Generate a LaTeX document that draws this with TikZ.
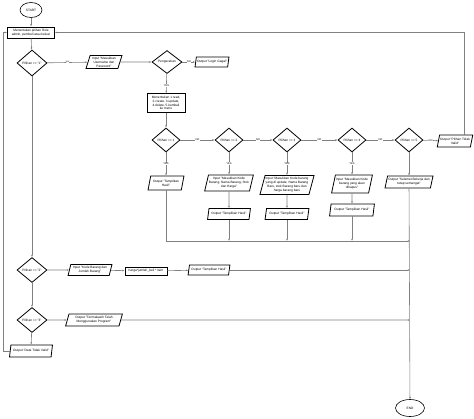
\documentclass[tikz,border=0pt]{standalone}
\usepackage{fontspec}
\setmainfont{Liberation Sans}
\usetikzlibrary{shapes.geometric,arrows.meta}
\definecolor{ln}{gray}{0.5}
\begin{document}
\begin{tikzpicture}[x=1pt,y=-1pt,
  every node/.style={font=\fontsize{3.2}{3.9}\selectfont, inner sep=0.5pt, align=center},
  term/.style={ellipse, draw=black, line width=0.6pt},
  proc/.style={rectangle, draw=black, line width=0.8pt},
  io/.style={trapezium, trapezium left angle=72, trapezium right angle=108, trapezium stretches=true, draw=black, line width=0.8pt},
  dec/.style={diamond, draw=black, line width=0.8pt},
  conn/.style={draw=ln, line width=0.6pt, -{Latex[length=2.2pt,width=1.8pt]}},
  lbl/.style={fill=white, font=\fontsize{2.6}{3}\selectfont, inner sep=0.3pt}
]
\useasboundingbox (0,0) rectangle (474,418);
% top section
\node[term, minimum width=22, minimum height=15] (start) at (31,10) {START};
\node[proc, minimum width=47, minimum height=11] (menu0) at (31,32.5) {Menentukan pilihan Role\\admin, pembeli atau keluar};
\node[dec, minimum width=30, minimum height=26] (d1) at (32,63) {Pilihan == "1"};
\node[io, minimum width=36, minimum height=13] (inlogin) at (104,62) {Input "Masukkan\\Username dan\\Password"};
\node[dec, minimum width=30, minimum height=23] (cek) at (167,62) {Pengecekan};
\node[io, minimum width=34, minimum height=10] (gagal) at (212,62) {Output "Login Gagal"};
\node[proc, minimum width=38, minimum height=19] (menu1) at (166,103) {Menentukan 1 read,\\2.create, 3.update,\\4.delete, 5.kembali\\ke menu};
% choice row
\node[dec, minimum width=28, minimum height=24] (p1) at (166,140) {Pilihan == 1};
\node[dec, minimum width=28, minimum height=24] (p2) at (229,140) {Pilihan == 2};
\node[dec, minimum width=28, minimum height=24] (p3) at (287,140) {Pilihan == 3};
\node[dec, minimum width=28, minimum height=24] (p4) at (352,140) {Pilihan == 4};
\node[dec, minimum width=28, minimum height=24] (p5) at (409,140) {Pilihan == 5};
\node[io, minimum width=34, minimum height=12] (tv) at (455,141) {Output "Pilihan Tidak\\Valid"};
% results
\node[io, minimum width=36, minimum height=14] (o1) at (166,183) {Output "Tampilkan\\Hasil"};
\node[io, minimum width=47, minimum height=16] (i2) at (229,183) {Input "Masukkan Kode\\Barang, Nama Barang, Stok\\dan Harga"};
\node[io, minimum width=43, minimum height=11] (o2) at (229,214) {Output "Tampilkan Hasil"};
\node[io, minimum width=51, minimum height=19] (i3) at (287,185) {Input "Masukkan Kode barang\\yang di update, Nama Barang\\Baru, stok Barang baru dan\\harga barang baru};
\node[io, minimum width=44, minimum height=11] (o3) at (287,214) {Output "Tampilkan Hasil"};
\node[io, minimum width=41, minimum height=18] (i4) at (352,184) {Input "Masukkan Kode\\barang yang akan\\dihapus"};
\node[io, minimum width=45, minimum height=12] (o4) at (352,210) {Output "Tampilkan Hasil"};
\node[io, minimum width=48, minimum height=12] (o5) at (409,182) {Output "Selamat Bekerja dan\\tetap semangat"};
\node[term, minimum width=29, minimum height=17] (end) at (410,408) {END};
% lower section
\node[dec, minimum width=30, minimum height=25] (d2) at (32,270) {Pilihan == "2"};
\node[io, minimum width=44, minimum height=11] (ik) at (90,270) {Input "Kode Barang dan\\Jumlah Barang"};
\node[proc, minimum width=42, minimum height=8] (calc) at (146,271) {harga*jumlah\_beli * item};
\node[io, minimum width=42, minimum height=10] (ok) at (209,270) {Output "Tampilkan Hasil"};
\node[dec, minimum width=30, minimum height=25] (d3) at (32,320) {Pilihan == "3"};
\node[io, minimum width=57, minimum height=12] (oter) at (94,320) {Output "Terimakasih Telah\\Menggunakan Program"};
\node[io, minimum width=43, minimum height=12] (odv) at (31,351) {Output "Data Tidak Valid"};
% helper coordinates
\coordinate (m) at (410,241);
\coordinate (tvup) at (464,32.5);
\coordinate (lx) at (3,351);
% connectors
\draw[conn] (start) -- (menu0);
\draw[conn] (menu0) -- (d1);
\draw[conn] (d1) -- node[lbl]{ya} (inlogin);
\draw[conn] (inlogin) -- (cek);
\draw[conn] (cek) -- node[lbl]{NO} (gagal);
\draw[conn] (cek) -- node[lbl, pos=0.6]{YES} (menu1);
\draw[conn] (menu1) -- (p1);
\draw[conn] (p1) -- node[lbl]{NO} (p2);
\draw[conn] (p2) -- node[lbl]{NO} (p3);
\draw[conn] (p3) -- node[lbl]{NO} (p4);
\draw[conn] (p4) -- node[lbl]{NO} (p5);
\draw[conn] (p5) -- node[lbl]{NO} (tv);
\draw[conn] (p1) -- node[lbl]{YES} (o1);
\draw[conn] (p2) -- node[lbl]{YES} (i2);
\draw[conn] (i2) -- (o2);
\draw[conn] (p3) -- node[lbl]{YES} (i3);
\draw[conn] (i3) -- (o3);
\draw[conn] (p4) -- node[lbl]{YES} (i4);
\draw[conn] (i4) -- (o4);
\draw[conn] (p5) -- (o5);
\draw[conn] (tv.north -| tvup) -- (tvup) -- (menu0.east);
\draw[conn] (o1) -- (o1 |- m) -- (m);
\draw[conn] (o2) -- (o2 |- m);
\draw[conn] (o3) -- (o3 |- m);
\draw[conn] (o4) -- (o4 |- m);
\draw[conn] (o5) -- (end);
\draw[conn] (d1) -- (d2);
\draw[conn] (d2) -- (ik);
\draw[conn] (ik) -- (calc);
\draw[conn] (calc) -- (ok);
\draw[conn] (ok) -- (ok -| end);
\draw[conn] (d2) -- (d3);
\draw[conn] (d3) -- (oter);
\draw[conn] (oter) -- (oter -| end);
\draw[conn] (d3) -- (odv);
\draw[conn] (odv.west) -- (odv.west -| lx) |- (menu0.west);
\end{tikzpicture}
\end{document}
